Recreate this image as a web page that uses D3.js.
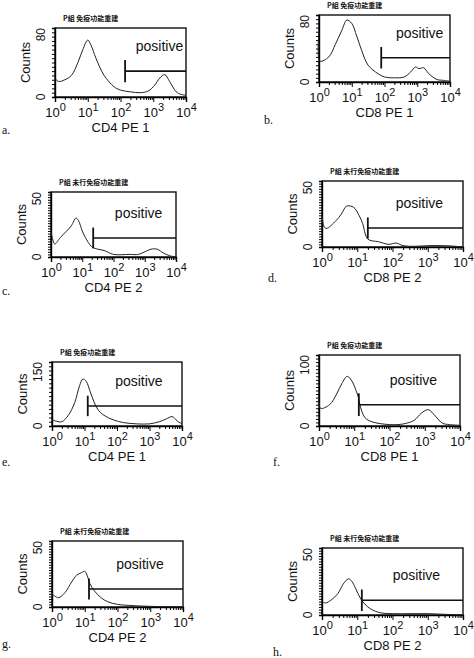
<!DOCTYPE html>
<html><head><meta charset="utf-8">
<script src="https://cdn.jsdelivr.net/npm/d3@7"></script>
<style>
body{margin:0;background:#fff}
text{font-family:"Liberation Sans",Arial,sans-serif;fill:#111}
.title{font-family:"Noto Sans CJK TC",sans-serif;font-size:7px;font-weight:bold}
.lab{font-family:"Liberation Serif",serif;font-size:12px}
</style></head><body>
<svg id="fig" width="474" height="658"></svg>
<script>
const panelIds = ["a","b","c","d","e","f","g","h"]
const titles = ["P組 免疫功能重建","P組 免疫功能重建","P組 未行免疫功能重建","P組 未行免疫功能重建",
  "P組 免疫功能重建","P組 免疫功能重建","P組 未行免疫功能重建","P組 未行免疫功能重建"]
const xLabels = ["CD4 PE 1","CD8 PE 1","CD4 PE 2","CD8 PE 2","CD4 PE 1","CD8 PE 1","CD4 PE 2","CD8 PE 2"]
const yMax = [80,80,50,50,150,100,50,50]
// gate: [log10 start, count level]
const gates = [[2.14,30],[1.9,29],[1.35,14.6],[1.3,14.4],[1.1,47],[1.13,30],[1.13,13.6],[1.13,11]]
// histogram traces: [log10 intensity, counts]
const histA = [[0,22],[0.1,18],[0.3,20],[0.5,25],[0.7,40],[0.85,55],[1,66],[1.1,60],[1.25,45],[1.5,25],[1.8,12],[2,8],[2.3,6],[2.6,5],[2.85,7],[3.05,14],[3.2,22],[3.35,26],[3.5,18],[3.7,6],[3.85,3],[4,2]]
const histB = [[0,60],[0.03,25],[0.3,30],[0.5,45],[0.7,62],[0.85,74],[1,70],[1.15,55],[1.3,38],[1.5,20],[1.8,10],[2,6],[2.3,5],[2.6,6],[2.8,12],[2.95,18],[3.05,16],[3.2,17],[3.35,10],[3.6,3],[3.8,2],[4,1]]
const histC = [[0,20],[0.05,14],[0.12,10],[0.3,15],[0.5,20],[0.65,24],[0.8,30],[0.88,28],[1,20],[1.1,15],[1.3,8],[1.5,6],[1.7,5],[2,2],[2.5,2],[2.8,2],[3,4],[3.2,6],[3.4,6],[3.6,3],[3.8,1],[4,0]]
const histD = [[0,25],[0.05,16],[0.12,14],[0.4,20],[0.55,25],[0.7,31],[0.9,30],[1.05,24],[1.15,18],[1.3,6],[1.6,4],[1.9,2],[2.1,3],[2.3,1],[2.6,0.5],[3,1],[3.5,1],[3.8,0.5],[4,0]]
const histE = [[0,15],[0.1,12],[0.3,10],[0.5,25],[0.7,55],[0.85,95],[0.95,110],[1.05,105],[1.2,75],[1.4,40],[1.6,25],[1.9,14],[2.2,8],[2.6,5],[3,5],[3.3,10],[3.5,16],[3.7,22],[3.85,12],[4,5]]
const histF = [[0,50],[0.04,25],[0.3,30],[0.5,45],[0.65,60],[0.8,70],[0.95,62],[1.05,50],[1.12,40],[1.16,30],[1.3,12],[1.5,6],[2,2],[2.4,3],[2.7,8],[2.9,18],[3.1,23],[3.3,14],[3.5,4],[3.7,2],[4,1]]
const histG = [[0,10],[0.1,8],[0.2,7],[0.4,11],[0.6,19],[0.75,24],[0.9,26],[1,27],[1.1,22],[1.15,18],[1.3,12],[1.5,7],[1.7,4],[2,2],[2.5,1],[3,0.5],[4,0]]
const histH = [[0,10],[0.1,9],[0.25,11],[0.45,16],[0.6,23],[0.75,27],[0.85,25],[0.95,20],[1.1,12],[1.3,6],[1.6,2],[2,1],[2.5,1],[3,1],[3.5,0.5],[4,0]]
const hists = [histA,histB,histC,histD,histE,histF,histG,histH]
// placement of each plot box: [left, top, right, bottom] and letter label position
const boxes = [[55,28,186,97],[319,15,450,82],[51,192,176,257],[322,181,463,247],
  [52,362,182,426],[319,355,460,426],[52,541,183,607],[322,548,463,615]]
const letterPos = [[2,134],[264,124],[2,295],[268,282],[2,466],[273,466],[2,648],[273,656]]

const svg = d3.select("#fig")

panelIds.forEach((id, i) => {
    const [x0, y0, x1, y1] = boxes[i]
    const g = svg.append("g")
    const x = d3.scaleLinear().domain([0, 4]).range([x0, x1])
    const y = d3.scaleLinear().domain([0, yMax[i]]).range([y1, y0])

    g.append("rect").attr("x", x0).attr("y", y0).attr("width", x1 - x0).attr("height", y1 - y0)
        .attr("fill", "none").attr("stroke", "#111").attr("stroke-width", 1.4)

    // x axis: log decades with minor ticks
    const minor = []
    for (let d = 0; d < 4; d++) for (let k = 2; k <= 9; k++) minor.push(d + Math.log10(k))
    g.append("g").attr("transform", `translate(0,${y1})`)
        .call(d3.axisBottom(x).tickValues(minor).tickSize(3).tickFormat(""))
        .call(a => a.select(".domain").remove())
    const xa = g.append("g").attr("transform", `translate(0,${y1})`)
        .call(d3.axisBottom(x).tickValues([0,1,2,3,4]).tickSize(5).tickFormat(""))
    xa.select(".domain").attr("stroke-width", 1.4)
    xa.selectAll(".tick").each(function (d) {
        const t = d3.select(this).append("text").attr("y", 20).attr("text-anchor", "middle")
            .attr("font-size", 13)
        t.append("tspan").text("10")
        t.append("tspan").attr("dy", -6).attr("font-size", 11).text(d)
    })

    // y axis: dense minor ticks, only 0 and max labelled
    const ya = g.append("g").attr("transform", `translate(${x0},0)`)
        .call(d3.axisLeft(y).ticks(20).tickSize(3).tickFormat(""))
    ya.select(".domain").attr("stroke-width", 1.4)
    ;[0, yMax[i]].forEach(v => {
        g.append("text").attr("transform", `translate(${x0 - 10},${y(v)}) rotate(-90)`)
            .attr("text-anchor", v ? "end" : "middle").attr("font-size", 12).text(v)
    })
    g.append("text").attr("transform", `translate(${x0 - 25},${(y0 + y1) / 2}) rotate(-90)`)
        .attr("text-anchor", "middle").attr("font-size", 13).text("Counts")

    g.append("text").attr("class", "title").attr("x", x0 + 8).attr("y", y0 - 7).text(titles[i])
    g.append("text").attr("x", (x0 + x1) / 2).attr("y", y1 + 35).attr("text-anchor", "middle")
        .attr("font-size", 13).text(xLabels[i])
    g.append("text").attr("class", "lab").attr("x", letterPos[i][0]).attr("y", letterPos[i][1]).text(panelIds[i] + ".")

    // histogram trace
    g.append("path").datum(hists[i])
        .attr("d", d3.line().x(d => x(d[0])).y(d => y(d[1])).curve(d3.curveCatmullRom))
        .attr("fill", "none").attr("stroke", "#222").attr("stroke-width", 1)

    // positive gate marker
    const [gx, gy] = gates[i]
    const barH = (y1 - y0) * 0.16
    g.append("line").attr("x1", x(gx)).attr("x2", x1).attr("y1", y(gy)).attr("y2", y(gy))
        .attr("stroke", "#111").attr("stroke-width", 1.6)
    g.append("line").attr("x1", x(gx)).attr("x2", x(gx)).attr("y1", y(gy) - barH).attr("y2", y(gy) + barH)
        .attr("stroke", "#111").attr("stroke-width", 1.8)
    g.append("text").attr("x", (x(gx) + x1) / 2 + 4).attr("y", y(gy) - 20)
        .attr("text-anchor", "middle").attr("font-size", 14).text("positive")
})
</script></body></html>
